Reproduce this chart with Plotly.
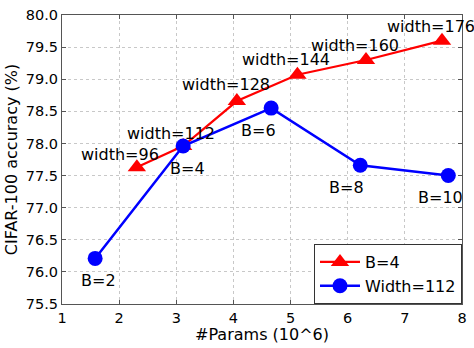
import plotly.graph_objects as go

# Red series: fixed B=4, varying width
width_params = [2.31, 3.12, 4.06, 5.12, 6.32, 7.65]
width_acc = [77.63, 77.96, 78.66, 79.07, 79.30, 79.60]
width_labels = ["width=96", "width=112", "width=128", "width=144", "width=160", "width=176"]

# Blue series: fixed width=112, varying B
b_params = [1.58, 3.12, 4.66, 6.22, 7.76]
b_acc = [76.21, 77.96, 78.55, 77.66, 77.50]
b_labels = ["B=2", "B=4", "B=6", "B=8", "B=10"]

x_ticks = [1, 2, 3, 4, 5, 6, 7, 8]
y_ticks = [75.5, 76.0, 76.5, 77.0, 77.5, 78.0, 78.5, 79.0, 79.5, 80.0]

# label offsets in pixels (dx, dy) relative to each marker
width_offsets = [(-17, 13), (-12, 13), (-11, 17), (-11, 15), (-11, 14), (-11, 14)]
b_offsets = [(3, -22), (4, -22), (-13, -22), (-14, -22), (-8, -22)]

FONT = "DejaVu Sans"
RED = "#ff0000"
BLUE = "#0000ff"

fig = go.Figure()
fig.add_trace(go.Scatter(
    x=width_params, y=width_acc, mode="lines+markers", name="B=4",
    line=dict(color=RED, width=2.2),
    marker=dict(symbol="triangle-up", size=16, color=RED),
    cliponaxis=False,
))
fig.add_trace(go.Scatter(
    x=b_params, y=b_acc, mode="lines+markers", name="Width=112",
    line=dict(color=BLUE, width=2.5),
    marker=dict(symbol="circle", size=15, color=BLUE),
    cliponaxis=False,
))

annotations = []
for xv, yv, txt, (dx, dy) in zip(width_params, width_acc, width_labels, width_offsets):
    annotations.append(dict(x=xv, y=yv, xref="x", yref="y", text=txt, showarrow=False,
                            xshift=dx, yshift=dy, font=dict(family=FONT, size=16, color="black")))
for xv, yv, txt, (dx, dy) in zip(b_params, b_acc, b_labels, b_offsets):
    annotations.append(dict(x=xv, y=yv, xref="x", yref="y", text=txt, showarrow=False,
                            xshift=dx, yshift=dy, font=dict(family=FONT, size=16, color="black")))

axis_common = dict(
    showline=True, linecolor="#555555", linewidth=1.2, mirror="ticks",
    ticks="inside", ticklen=4, tickcolor="#555555",
    showgrid=True, gridcolor="#c8c8c8", griddash="dot", gridwidth=1,
    zeroline=False,
    tickfont=dict(family=FONT, size=14.5, color="black"),
)

fig.update_layout(
    width=474, height=348,
    margin=dict(l=62, r=12, t=7, b=41),
    paper_bgcolor="white", plot_bgcolor="white",
    font=dict(family=FONT, color="black"),
    annotations=annotations,
    showlegend=True,
    legend=dict(
        x=1, y=0, xanchor="right", yanchor="bottom",
        bgcolor="white", bordercolor="#333333", borderwidth=1,
        font=dict(family=FONT, size=16, color="black"),
        itemwidth=40, tracegroupgap=0,
    ),
    xaxis=dict(
        range=[1, 8], tickvals=x_ticks, ticktext=[str(v) for v in x_ticks],
        title=dict(text="#Params (10^6)", font=dict(family=FONT, size=16), standoff=4),
        **axis_common,
    ),
    yaxis=dict(
        range=[75.5, 80.0], tickvals=y_ticks, ticktext=[f"{v:.1f}" for v in y_ticks],
        title=dict(text="CIFAR-100 accuracy (%)", font=dict(family=FONT, size=16), standoff=4),
        **axis_common,
    ),
)

fig.write_html("out.html")
